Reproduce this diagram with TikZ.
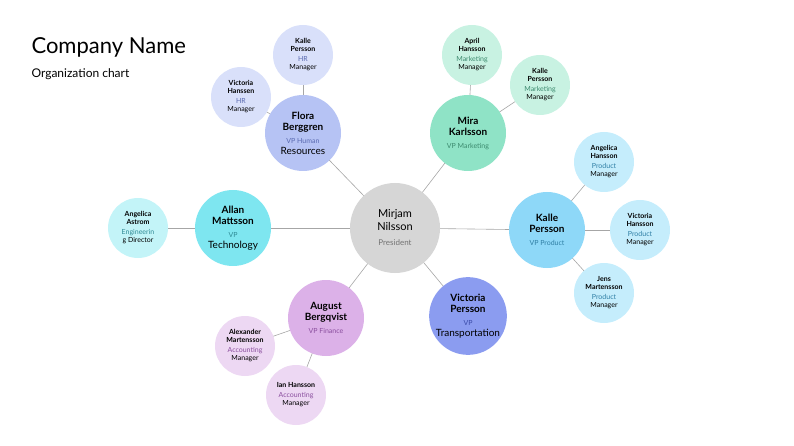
\documentclass[tikz,border=0pt]{standalone}
\usepackage{fontspec}
\setmainfont{Lato}
\usetikzlibrary{backgrounds}
\begin{document}
\begin{tikzpicture}[x=1pt,y=-1pt,
 big/.style={circle,minimum size=76pt,inner sep=0pt,align=center,font=\fontsize{10}{11}\selectfont},
 small/.style={circle,minimum size=60pt,inner sep=0pt,align=center,font=\fontsize{7}{8}\selectfont},
 link/.style={draw=gray!70,line width=0.6pt}]
\useasboundingbox (0,0) rectangle (794,446);
\definecolor{cgray}{HTML}{D6D6D6}
\definecolor{chr}{HTML}{B6C3F4}\definecolor{chrl}{HTML}{D9E0FA}\definecolor{thr}{HTML}{5A6AB0}
\definecolor{cmk}{HTML}{8FE3C6}\definecolor{cmkl}{HTML}{C8F2E2}\definecolor{tmk}{HTML}{3C8A6E}
\definecolor{ctc}{HTML}{7EE6F0}\definecolor{ctcl}{HTML}{C3F4F8}\definecolor{ttc}{HTML}{2F8A95}
\definecolor{cpr}{HTML}{8ED8F8}\definecolor{cprl}{HTML}{C5EDFC}\definecolor{tpr}{HTML}{2F7FA5}
\definecolor{cfi}{HTML}{DCB1E8}\definecolor{cfil}{HTML}{EDD8F3}\definecolor{tfi}{HTML}{8A4E9E}
\definecolor{ctr}{HTML}{8B9CF0}\definecolor{ttr}{HTML}{3A4AA8}
\newcommand{\sm}{\fontsize{7}{8}\selectfont}
\node[anchor=west,font=\fontsize{22}{24}\selectfont] (t1) at (28,47) {Company Name};
\node[anchor=west,font=\fontsize{12}{14}\selectfont] (t2) at (28,74) {Organization chart};
\node[big,fill=cgray,minimum size=90pt,font=\fontsize{11}{13}\selectfont] (c) at (395,228) {Mirjam\\Nilsson\\[2pt]\fontsize{8}{9}\selectfont\color{gray!90!black}President};
\node[big,fill=chr] (hr) at (303,133) {\textbf{Flora}\\\textbf{Berggren}\\[2pt]\sm\color{thr}VP Human\\Resources};
\node[big,fill=cmk] (mk) at (468,133) {\textbf{Mira}\\\textbf{Karlsson}\\[2pt]\sm\color{tmk}VP Marketing};
\node[big,fill=ctc] (tc) at (233,228) {\textbf{Allan}\\\textbf{Mattsson}\\[2pt]\sm\color{ttc}VP\\Technology};
\node[big,fill=cpr] (pr) at (547,230) {\textbf{Kalle}\\\textbf{Persson}\\[2pt]\sm\color{tpr}VP Product};
\node[big,fill=cfi] (fi) at (326,318) {\textbf{August}\\\textbf{Bergqvist}\\[2pt]\sm\color{tfi}VP Finance};
\node[big,fill=ctr] (tr) at (468,316) {\textbf{Victoria}\\\textbf{Persson}\\[2pt]\sm\color{ttr}VP\\Transportation};
\node[small,fill=chrl] (hr1) at (303,55) {\textbf{Kalle}\\\textbf{Persson}\\[2pt]\color{thr}HR\\Manager};
\node[small,fill=chrl] (hr2) at (241,97) {\textbf{Victoria}\\\textbf{Hanssen}\\[2pt]\color{thr}HR\\Manager};
\node[small,fill=cmkl] (mk1) at (472,55) {\textbf{April}\\\textbf{Hansson}\\[2pt]\color{tmk}Marketing\\Manager};
\node[small,fill=cmkl] (mk2) at (540,85) {\textbf{Kalle}\\\textbf{Persson}\\[2pt]\color{tmk}Marketing\\Manager};
\node[small,fill=ctcl] (tc1) at (138,228) {\textbf{Angelica}\\\textbf{Astrom}\\[2pt]\color{ttc}Engineerin\\g Director};
\node[small,fill=cprl] (pr1) at (604,162) {\textbf{Angelica}\\\textbf{Hansson}\\[2pt]\color{tpr}Product\\Manager};
\node[small,fill=cprl] (pr2) at (640,230) {\textbf{Victoria}\\\textbf{Hansson}\\[2pt]\color{tpr}Product\\Manager};
\node[small,fill=cprl] (pr3) at (604,293) {\textbf{Jens}\\\textbf{Martensson}\\[2pt]\color{tpr}Product\\Manager};
\node[small,fill=cfil] (fi1) at (245,346) {\textbf{Alexander}\\\textbf{Martensson}\\[2pt]\color{tfi}Accounting\\Manager};
\node[small,fill=cfil] (fi2) at (296,395) {\textbf{Ian Hansson}\\[2pt]\color{tfi}Accounting\\Manager};
\begin{scope}[on background layer]
\foreach \a/\b in {c/hr,c/mk,c/tc,c/pr,c/fi,c/tr,hr/hr1,hr/hr2,mk/mk1,mk/mk2,tc/tc1,pr/pr1,pr/pr2,pr/pr3,fi/fi1,fi/fi2}
  \draw[link] (\a.center) -- (\b.center);
\end{scope}
\end{tikzpicture}
\end{document}
